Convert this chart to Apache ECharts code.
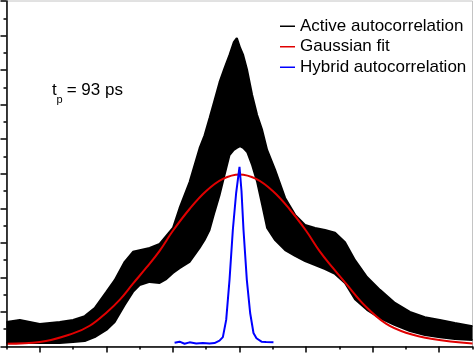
<!DOCTYPE html>
<html><head><meta charset="utf-8">
<script src="https://cdn.jsdelivr.net/npm/echarts@6/dist/echarts.min.js"></script>
<style>html,body{margin:0;padding:0;background:#fff}#c{width:474px;height:353px}</style>
</head><body><div id="c"></div>
<script>
// Active autocorrelation: band between lower and upper envelope of the fast oscillation
const activeX = [-7,-6.6,-6,-5.4,-5,-4.65,-4.35,-4,-3.75,-3.45,-3.2,-3,-2.7,-2.4,-2.2,-2,-1.8,-1.5,-1.2,-1.05,-0.9,-0.75,-0.6,-0.45,-0.3,-0.17,-0.08,0.02,0.11,0.23,0.38,0.53,0.68,0.83,1.07,1.37,1.67,1.97,2.27,2.57,2.87,3.17,3.47,3.83,4.22,4.67,5.12,5.57,6.02,6.47,7];
const activeUpper = [0.71,0.77,0.65,0.71,0.77,0.88,1.11,1.58,1.92,2.45,2.74,2.79,2.85,2.97,3.20,3.43,4.01,4.76,5.74,6.11,6.61,7.13,7.65,8.06,8.44,8.81,8.93,8.64,8.44,8.00,7.28,6.70,6.27,5.69,5.11,4.30,3.81,3.52,3.43,3.37,3.29,3.02,2.50,2.01,1.64,1.26,1.00,0.85,0.77,0.68,0.59];
const activeLower = [0.10,0.10,0.10,0.10,0.13,0.16,0.27,0.48,0.71,1.20,1.58,1.78,1.87,1.84,1.95,2.13,2.27,2.45,2.85,3.08,3.37,3.89,4.38,4.96,5.54,5.69,5.75,5.80,5.75,5.63,5.25,4.76,4.10,3.43,3.08,2.79,2.62,2.47,2.36,2.24,2.10,1.84,1.37,1.06,0.82,0.62,0.45,0.33,0.27,0.22,0.19];
// Gaussian fit
const fitX = [-7,-6,-5,-4.5,-4,-3.6,-3.2,-2.8,-2.4,-2,-1.5,-1,-0.5,0,0.5,1,1.5,2,2.4,2.8,3.2,3.8,4.4,5,5.8,7];
const fitY = [0.08,0.13,0.38,0.6,0.98,1.35,1.82,2.28,2.77,3.35,3.98,4.5,4.85,4.98,4.85,4.5,3.98,3.35,2.77,2.28,1.82,1.15,0.66,0.4,0.22,0.09];
// Hybrid autocorrelation
const hybX = [-1.95,-1.8,-1.65,-1.5,-1.3,-1.1,-0.9,-0.75,-0.6,-0.5,-0.4,-0.3,-0.2,-0.1,0,0.06,0.12,0.22,0.32,0.42,0.51,0.66,0.8,1.02];
const hybY = [0.11,0.14,0.08,0.12,0.09,0.1,0.09,0.1,0.17,0.27,0.77,1.93,3.38,4.45,5.2,4.5,3.38,1.93,0.97,0.39,0.24,0.14,0.13,0.12];
const seriesNames = ['Active autocorrelation','Gaussian fit','Hybrid autocorrelation'];
const xMajorTicks = [-6,-4,-2,0,2,4,6];
const yMajorTicks = [0,1,2,3,4,5,6,7,8,9,10];

const FONT = 'Liberation Sans';
const chart = echarts.init(document.getElementById('c'), null, {renderer:'canvas'});
const upperData = activeX.map((x,i)=>[x, activeUpper[i]]);
const lowerData = activeX.map((x,i)=>[x, activeLower[i]]);
const axisBase = {type:'value', splitLine:{show:false}, axisLabel:{show:false}, z:10};
chart.setOption({
  animation:false,
  backgroundColor:'#fff',
  grid:{left:6.5, right:1.5, top:1, bottom:6.5, show:true, borderColor:'#c4c4c4', borderWidth:1, backgroundColor:'transparent'},
  xAxis:[
    Object.assign({}, axisBase, {min:-7, max:7, interval:1, position:'bottom',
      axisLine:{show:true, onZero:false, lineStyle:{color:'#000', width:1.5}},
      axisTick:{show:true, length:3, lineStyle:{color:'#000', width:1.5}}}),
    Object.assign({}, axisBase, {min:-7, max:7, interval:1, position:'bottom', offset:0,
      axisLine:{show:false, onZero:false},
      axisTick:{show:true, length:6, customValues:xMajorTicks, lineStyle:{color:'#000', width:1.5}}})
  ],
  yAxis:[
    Object.assign({}, axisBase, {min:0, max:10, interval:0.5, position:'left',
      axisLine:{show:true, onZero:false, lineStyle:{color:'#000', width:1.5}},
      axisTick:{show:true, length:3, lineStyle:{color:'#000', width:1.5}}}),
    Object.assign({}, axisBase, {min:0, max:10, interval:0.5, position:'left', offset:0,
      axisLine:{show:false, onZero:false},
      axisTick:{show:true, length:6, customValues:yMajorTicks, lineStyle:{color:'#000', width:1.5}}})
  ],
  legend:{
    data:[
      {name:seriesNames[0], icon:'rect', itemStyle:{color:'#000'}},
      {name:seriesNames[1], icon:'rect', itemStyle:{color:'#e00000'}},
      {name:seriesNames[2], icon:'rect', itemStyle:{color:'#0000ff'}}
    ],
    orient:'vertical', left:280, top:16, padding:0, itemGap:0,
    itemWidth:15, itemHeight:1.5, selectedMode:false,
    textStyle:{fontFamily:FONT, fontSize:17, color:'#000', lineHeight:20.5}
  },
  graphic:[
    {type:'text', left:52, top:82, style:{text:'t', font:'17px "Liberation Sans"', fill:'#000'}},
    {type:'text', left:56.5, top:94, style:{text:'p', font:'11px "Liberation Sans"', fill:'#000'}},
    {type:'text', left:62, top:82, style:{text:' = 93 ps', font:'17px "Liberation Sans"', fill:'#000'}}
  ],
  series:[
    {type:'line', name:seriesNames[0], data:upperData, symbol:'none', silent:true,
      lineStyle:{color:'#000', width:2}, itemStyle:{color:'#000'},
      areaStyle:{color:'#000', opacity:1, origin:'start'}, z:2},
    {type:'line', name:'_lowerMask', data:lowerData, symbol:'none', silent:true,
      lineStyle:{color:'#000', width:2}, areaStyle:{color:'#fff', opacity:1, origin:'start'}, z:2},
    {type:'line', name:seriesNames[1], data:fitX.map((x,i)=>[x,fitY[i]]), symbol:'none', smooth:0.4,
      lineStyle:{color:'#e00000', width:2}, itemStyle:{color:'#e00000'}, z:3},
    {type:'line', name:seriesNames[2], data:hybX.map((x,i)=>[x,hybY[i]]), symbol:'none',
      lineStyle:{color:'#0000ff', width:2}, itemStyle:{color:'#0000ff'}, z:4}
  ]
});
</script></body></html>
